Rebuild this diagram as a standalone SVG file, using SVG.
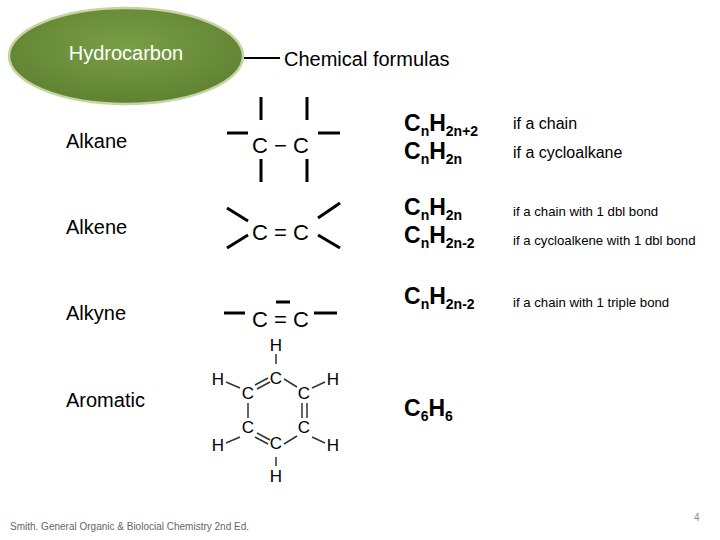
<svg xmlns="http://www.w3.org/2000/svg" width="720" height="540" viewBox="0 0 720 540">
<defs>
<radialGradient id="g" cx="0.5" cy="0.4" r="0.6"><stop offset="0" stop-color="#7a9e45"/><stop offset="1" stop-color="#5f8232"/></radialGradient>
</defs>
<style>
text{font-family:"Liberation Sans",Arial,sans-serif;fill:#000}
.l{font-size:20px}
.c{font-size:22px}
.f{font-size:23px;font-weight:bold}
.s{font-size:14px;font-weight:bold}
.b{stroke:#000;stroke-width:3;fill:none}
.bz{stroke:#333;stroke-width:1.5;fill:none}
.bt{font-size:17px;text-anchor:middle}
.t{font-size:13.2px}
</style>
<rect width="720" height="540" fill="#fff"/>
<g id="connectors">
<line x1="240" y1="58" x2="280" y2="58" stroke="#000" stroke-width="2"/>
</g>
<g id="hydrocarbon">
<ellipse cx="126" cy="56" rx="117" ry="48" fill="url(#g)" stroke="#c7d3a2" stroke-width="2.5"/>
<text x="126" y="60" font-size="20" style="fill:#fff" text-anchor="middle">Hydrocarbon</text>
</g>
<g id="chemical-formulas"><text x="284" y="66" class="l">Chemical formulas</text></g>
<g id="labels">
<text x="66" y="148" class="l">Alkane</text>
<text x="66" y="234" class="l">Alkene</text>
<text x="66" y="320" class="l">Alkyne</text>
<text x="66" y="407" class="l">Aromatic</text>
</g>
<g id="alkane">
<text x="252" y="153" class="c">C − C</text>
<line class="b" x1="261" y1="97" x2="261" y2="120"/><line class="b" x1="307" y1="97" x2="307" y2="120"/>
<line class="b" x1="261" y1="159" x2="261" y2="182"/><line class="b" x1="307" y1="159" x2="307" y2="182"/>
<line class="b" x1="227" y1="133" x2="248" y2="133"/><line class="b" x1="318" y1="133" x2="340" y2="133"/>
</g>
<g id="alkene">
<text x="252" y="240" class="c">C = C</text>
<line class="b" x1="227" y1="208" x2="248" y2="221"/><line class="b" x1="227" y1="248" x2="248" y2="235"/>
<line class="b" x1="340" y1="203" x2="318" y2="218"/><line class="b" x1="340" y1="248" x2="318" y2="235"/>
</g>
<g id="alkyne">
<text x="252" y="327" class="c">C = C</text>
<line class="b" x1="276" y1="302" x2="290" y2="302"/>
<line class="b" x1="224" y1="313" x2="245" y2="313"/><line class="b" x1="314" y1="313" x2="337" y2="313"/>
</g>
<g id="benzene">
<text x="276" y="351" class="bt">H</text>
<text x="276" y="384" class="bt">C</text>
<text x="248" y="399" class="bt">C</text>
<text x="304" y="399" class="bt">C</text>
<text x="248" y="433" class="bt">C</text>
<text x="304" y="433" class="bt">C</text>
<text x="276" y="449" class="bt">C</text>
<text x="276" y="482" class="bt">H</text>
<text x="218" y="385" class="bt">H</text>
<text x="333" y="385" class="bt">H</text>
<text x="218" y="451" class="bt">H</text>
<text x="333" y="451" class="bt">H</text>
<line class="bz" x1="276" y1="354" x2="276" y2="364"/>
<line class="bz" x1="276" y1="457" x2="276" y2="466"/>
<line class="bz" x1="226" y1="382" x2="240" y2="388"/>
<line class="bz" x1="325" y1="382" x2="312" y2="388"/>
<line class="bz" x1="226" y1="443" x2="240" y2="437"/>
<line class="bz" x1="325" y1="443" x2="312" y2="437"/>
<line class="bz" x1="255" y1="385" x2="268" y2="378"/><line class="bz" x1="257" y1="389" x2="270" y2="382"/>
<line class="bz" x1="284" y1="379" x2="297" y2="387"/>
<line class="bz" x1="248" y1="403" x2="248" y2="418"/>
<line class="bz" x1="302" y1="403" x2="302" y2="418"/><line class="bz" x1="307" y1="403" x2="307" y2="418"/>
<line class="bz" x1="255" y1="437" x2="268" y2="444"/><line class="bz" x1="257" y1="433" x2="270" y2="440"/>
<line class="bz" x1="284" y1="444" x2="297" y2="436"/>
</g>
<g id="formulas">
<text x="404" y="131" class="f">C<tspan class="s" dy="5">n</tspan><tspan dy="-5">H</tspan><tspan class="s" dy="5">2n+2</tspan></text>
<text x="404" y="159" class="f">C<tspan class="s" dy="5">n</tspan><tspan dy="-5">H</tspan><tspan class="s" dy="5">2n</tspan></text>
<text x="404" y="215" class="f">C<tspan class="s" dy="5">n</tspan><tspan dy="-5">H</tspan><tspan class="s" dy="5">2n</tspan></text>
<text x="404" y="243" class="f">C<tspan class="s" dy="5">n</tspan><tspan dy="-5">H</tspan><tspan class="s" dy="5">2n-2</tspan></text>
<text x="404" y="304" class="f">C<tspan class="s" dy="5">n</tspan><tspan dy="-5">H</tspan><tspan class="s" dy="5">2n-2</tspan></text>
<text x="404" y="416" class="f">C<tspan class="s" dy="5">6</tspan><tspan dy="-5">H</tspan><tspan class="s" dy="5">6</tspan></text>
<text x="513" y="129" font-size="16">if a chain</text>
<text x="513" y="158" font-size="16">if a cycloalkane</text>
<text x="513" y="216" class="t">if a chain with 1 dbl bond</text>
<text x="513" y="245" class="t">if a cycloalkene with 1 dbl bond</text>
<text x="513" y="307" class="t">if a chain with 1 triple bond</text>
</g>
<text x="694" y="521" font-size="10" style="fill:#888">4</text>
<text x="10" y="530" font-size="10" style="fill:#666">Smith. General Organic &amp; Biolocial Chemistry 2nd Ed.</text>
</svg>
